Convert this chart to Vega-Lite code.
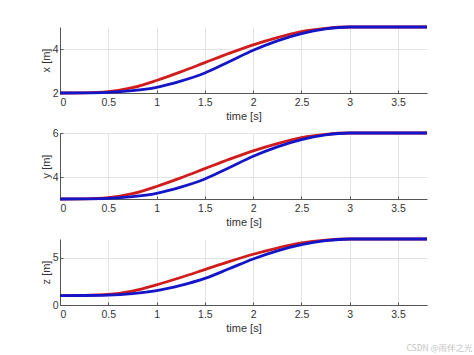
{
  "$schema": "https://vega.github.io/schema/vega-lite/v6.json",
  "background": "white",
  "padding": {"left": 40, "top": 21, "right": 5, "bottom": 2},
  "config": {
    "font": "Liberation Sans",
    "view": {"stroke": null},
    "axis": {
      "domainColor": "#555555",
      "domainWidth": 1,
      "tickColor": "#555555",
      "tickSize": -3,
      "labelColor": "#333333",
      "labelFontSize": 10.5,
      "titleColor": "#333333",
      "titleFontSize": 11,
      "titleFontWeight": "normal",
      "titlePadding": 3,
      "gridColor": "#e3e3e3",
      "gridWidth": 1
    },
    "axisX": {"labelPadding": 7},
    "axisY": {"labelPadding": 5, "titlePadding": 1}
  },
  "data": {"values": [
    {"t": 0, "s": "red", "x": 2, "y": 3, "z": 1},
    {"t": 0.25, "s": "red", "x": 2.009, "y": 3.009, "z": 1.018},
    {"t": 0.5, "s": "red", "x": 2.06, "y": 3.06, "z": 1.12},
    {"t": 0.75, "s": "red", "x": 2.24, "y": 3.24, "z": 1.48},
    {"t": 1, "s": "red", "x": 2.57, "y": 3.57, "z": 2.14},
    {"t": 1.25, "s": "red", "x": 2.96, "y": 3.96, "z": 2.92},
    {"t": 1.5, "s": "red", "x": 3.38, "y": 4.38, "z": 3.76},
    {"t": 1.75, "s": "red", "x": 3.8, "y": 4.8, "z": 4.6},
    {"t": 2, "s": "red", "x": 4.19, "y": 5.19, "z": 5.38},
    {"t": 2.25, "s": "red", "x": 4.52, "y": 5.52, "z": 6.04},
    {"t": 2.5, "s": "red", "x": 4.79, "y": 5.79, "z": 6.58},
    {"t": 2.75, "s": "red", "x": 4.94, "y": 5.94, "z": 6.88},
    {"t": 3, "s": "red", "x": 5, "y": 6, "z": 7},
    {"t": 3.8, "s": "red", "x": 5, "y": 6, "z": 7},
    {"t": 0, "s": "blue", "x": 2, "y": 3, "z": 1},
    {"t": 0.25, "s": "blue", "x": 2.003, "y": 3.003, "z": 1.006},
    {"t": 0.5, "s": "blue", "x": 2.024, "y": 3.024, "z": 1.048},
    {"t": 0.75, "s": "blue", "x": 2.105, "y": 3.105, "z": 1.21},
    {"t": 1, "s": "blue", "x": 2.261, "y": 3.261, "z": 1.522},
    {"t": 1.25, "s": "blue", "x": 2.54, "y": 3.54, "z": 2.08},
    {"t": 1.5, "s": "blue", "x": 2.91, "y": 3.91, "z": 2.82},
    {"t": 1.75, "s": "blue", "x": 3.42, "y": 4.42, "z": 3.84},
    {"t": 2, "s": "blue", "x": 3.94, "y": 4.94, "z": 4.88},
    {"t": 2.25, "s": "blue", "x": 4.37, "y": 5.37, "z": 5.74},
    {"t": 2.5, "s": "blue", "x": 4.7, "y": 5.7, "z": 6.4},
    {"t": 2.75, "s": "blue", "x": 4.91, "y": 5.91, "z": 6.82},
    {"t": 3, "s": "blue", "x": 5, "y": 6, "z": 7},
    {"t": 3.8, "s": "blue", "x": 5, "y": 6, "z": 7}
  ]},
  "spacing": 5,
  "title": {"text": "CSDN @雨伴之光", "orient": "bottom", "anchor": "end", "font": "Noto Sans CJK SC", "fontSize": 8.5, "fontWeight": "normal", "color": "#c4c4c4", "offset": 10, "dx": 40},
  "vconcat": [
    {
      "width": 367, "height": 66,
      "mark": {"type": "line", "strokeWidth": 2.8, "interpolate": "monotone"},
      "encoding": {
        "x": {"field": "t", "type": "quantitative", "scale": {"domain": [0, 3.8], "nice": false, "zero": false}, "axis": {"values": [0, 0.5, 1, 1.5, 2, 2.5, 3, 3.5], "format": "~g", "title": "time [s]"}},
        "y": {"field": "x", "type": "quantitative", "scale": {"domain": [2, 5], "nice": false, "zero": false}, "axis": {"values": [2, 4], "title": "x [m]"}},
        "color": {"field": "s", "type": "nominal", "scale": {"domain": ["red", "blue"], "range": ["#d01c1c", "#1515c8"]}, "legend": null}
      }
    },
    {
      "width": 367, "height": 66,
      "mark": {"type": "line", "strokeWidth": 2.8, "interpolate": "monotone"},
      "encoding": {
        "x": {"field": "t", "type": "quantitative", "scale": {"domain": [0, 3.8], "nice": false, "zero": false}, "axis": {"values": [0, 0.5, 1, 1.5, 2, 2.5, 3, 3.5], "format": "~g", "title": "time [s]"}},
        "y": {"field": "y", "type": "quantitative", "scale": {"domain": [3, 6], "nice": false, "zero": false}, "axis": {"values": [4, 6], "title": "y [m]"}},
        "color": {"field": "s", "type": "nominal", "scale": {"domain": ["red", "blue"], "range": ["#d01c1c", "#1515c8"]}, "legend": null}
      }
    },
    {
      "width": 367, "height": 66,
      "mark": {"type": "line", "strokeWidth": 2.8, "interpolate": "monotone"},
      "encoding": {
        "x": {"field": "t", "type": "quantitative", "scale": {"domain": [0, 3.8], "nice": false, "zero": false}, "axis": {"values": [0, 0.5, 1, 1.5, 2, 2.5, 3, 3.5], "format": "~g", "title": "time [s]"}},
        "y": {"field": "z", "type": "quantitative", "scale": {"domain": [0, 7], "nice": false, "zero": false}, "axis": {"values": [0, 5], "title": "z [m]"}},
        "color": {"field": "s", "type": "nominal", "scale": {"domain": ["red", "blue"], "range": ["#d01c1c", "#1515c8"]}, "legend": null}
      }
    }
  ]
}
